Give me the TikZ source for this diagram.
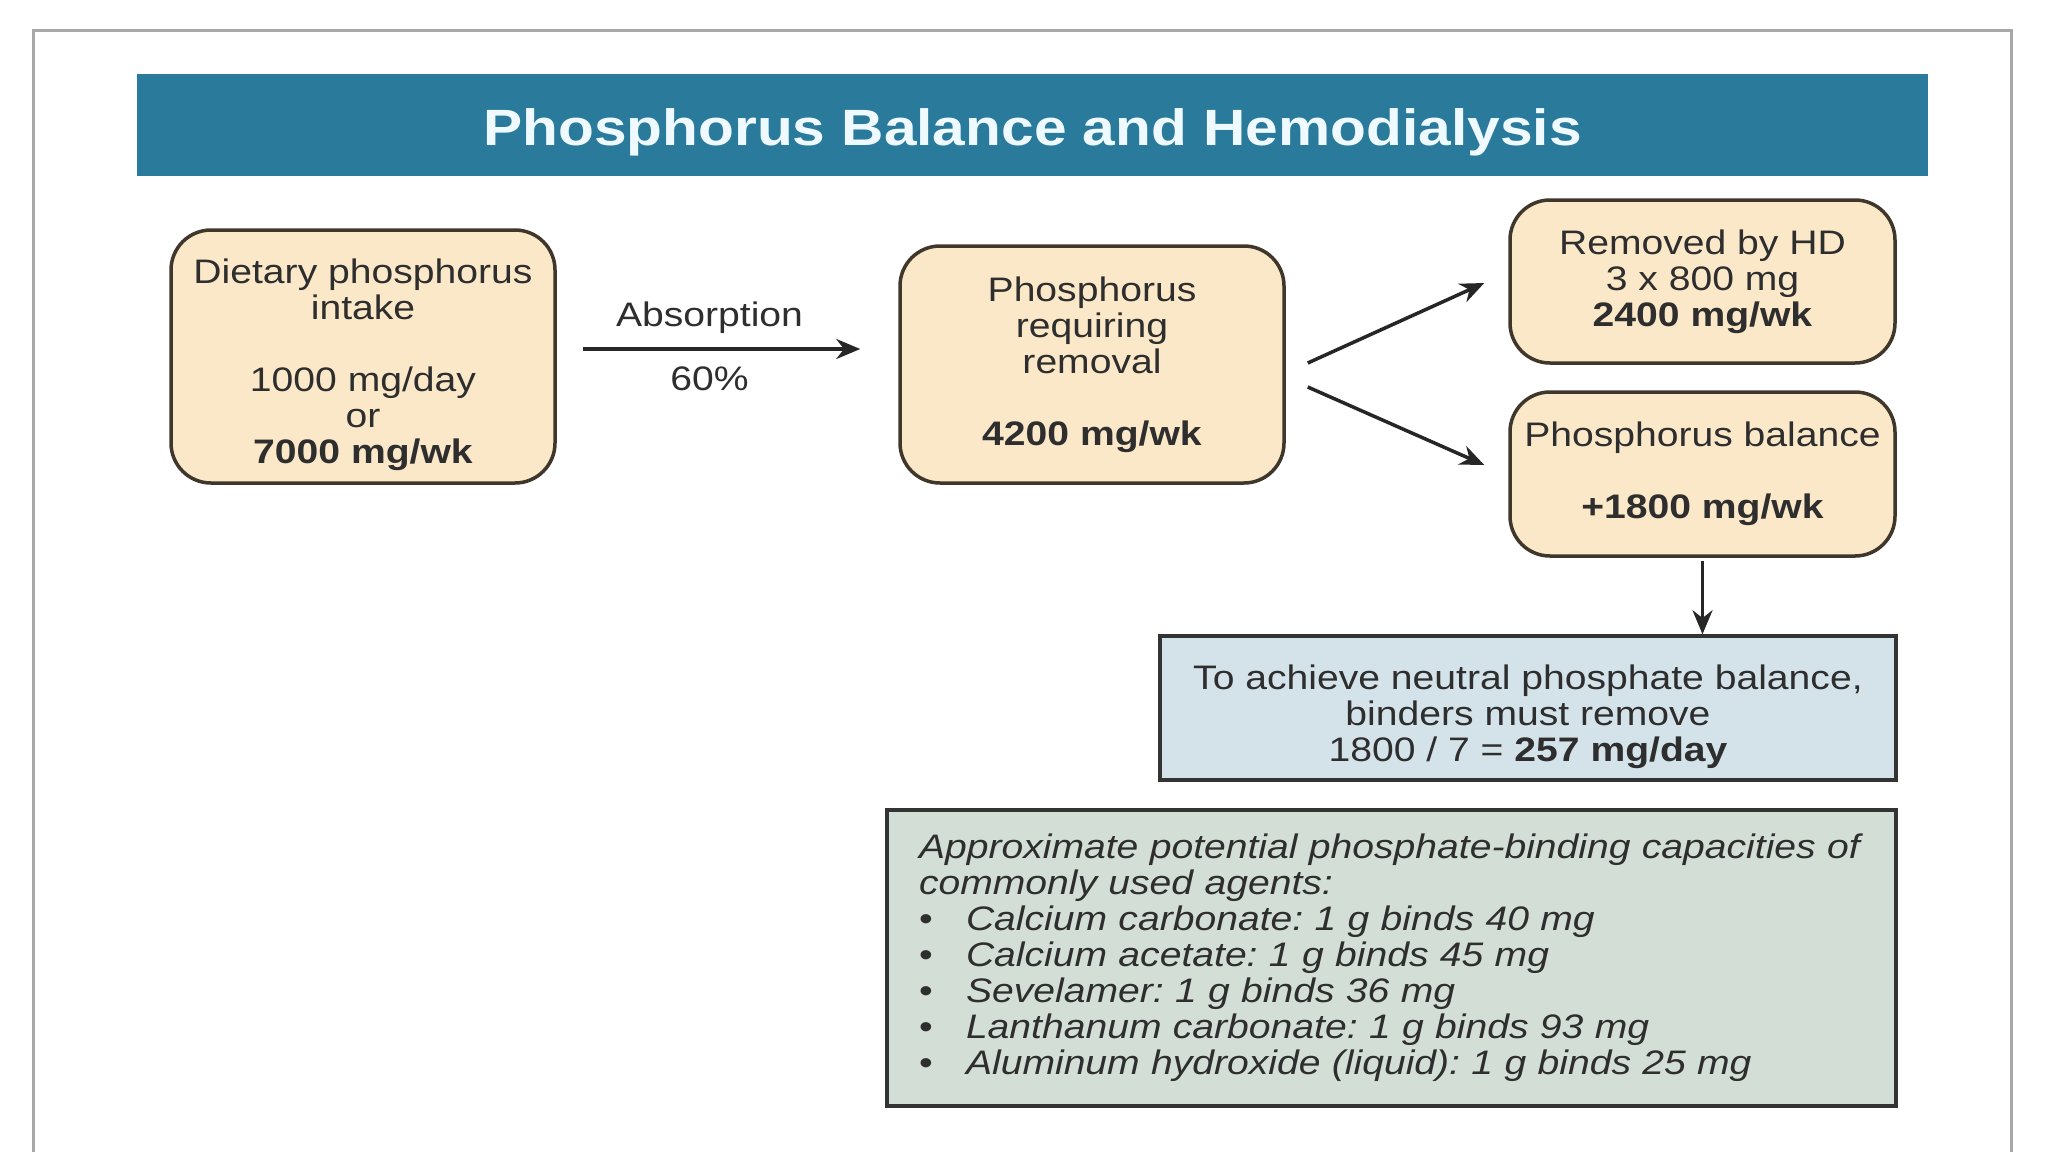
\documentclass[tikz,border=0pt]{standalone}
\usepackage{fontspec}
\setmainfont[FakeStretch=1.15]{Liberation Sans}
\usetikzlibrary{calc,arrows.meta}
\definecolor{bannerc}{HTML}{2A7A9C}
\definecolor{titlec}{HTML}{EEFAFF}
\definecolor{tanfill}{HTML}{FBE8C8}
\definecolor{tanline}{HTML}{3F372B}
\definecolor{bluefill}{HTML}{D4E3EA}
\definecolor{greenfill}{HTML}{D3DFD6}
\definecolor{boxline}{HTML}{333333}
\definecolor{txt}{HTML}{2E2E2E}
\definecolor{framec}{HTML}{A8A8A8}
\definecolor{arrowc}{HTML}{262626}
\frenchspacing
\begin{document}
\begin{tikzpicture}[x=1pt,y=-1pt,
  every node/.style={font=\fontsize{34}{36}\selectfont\frenchspacing, text=txt},
  tanbox/.style={draw=tanline, fill=tanfill, line width=3.5pt, rounded corners=40pt, align=center, inner sep=0pt},
  bluebox/.style={draw=boxline, fill=bluefill, line width=3.5pt, align=center, inner sep=0pt},
  greenbox/.style={draw=boxline, fill=greenfill, line width=3.5pt, align=left, inner xsep=32pt, inner ysep=0pt, text width=945pt},
  arr/.style={draw=arrowc, line width=3.5pt, -{Stealth[length=24pt,width=20pt]}},
]
\useasboundingbox (0,0) rectangle (2048,1152);
\fill[white] (0,0) rectangle (2048,1152);
% outer frame
\draw[framec, line width=3pt] (33,1152) -- (33,30) -- (2011,30) -- (2011,1152);

% banner
\node[fill=bannerc, minimum width=1791pt, minimum height=102pt, inner sep=0pt,
      font=\fontsize{51}{56}\selectfont\bfseries, text=titlec] (title) at (1032.5,125)
      {\raisebox{-7pt}[\height][\depth]{Phosphorus Balance and Hemodialysis}};

% tan boxes
\node[tanbox, minimum width=384pt, minimum height=253pt] (b1) at (363,356.5)
  {\rule{0pt}{41pt}Dietary phosphorus\\intake\\~\\1000 mg/day\\or\\\textbf{7000 mg/wk}};
\node[tanbox, minimum width=384pt, minimum height=237pt] (b2) at (1092,364.5)
  {Phosphorus\\requiring\\removal\\~\\\textbf{4200 mg/wk}};
\node[tanbox, minimum width=385pt, minimum height=163pt] (b3) at (1702.5,281.5)
  {Removed by HD\\3 x 800 mg\\\textbf{2400 mg/wk}};
\node[tanbox, minimum width=385pt, minimum height=164pt] (b4) at (1702.5,474)
  {Phosphorus balance\\~\\\textbf{+1800 mg/wk}};

% blue box
\node[bluebox, minimum width=736pt, minimum height=144pt] (b5) at (1528,708)
  {\rule{0pt}{43pt}To achieve neutral phosphate balance,\\binders must remove\\1800 / 7 = \textbf{257 mg/day}};

% green box
\node[greenbox, minimum height=296pt] (b6) at (1391.5,958)
  {\itshape\mbox{Approximate potential phosphate-binding capacities of}\\
   commonly used agents:\\
   \makebox[47pt][l]{\upshape\textbullet}Calcium carbonate: 1 g binds 40 mg\\
   \makebox[47pt][l]{\upshape\textbullet}Calcium acetate: 1 g binds 45 mg\\
   \makebox[47pt][l]{\upshape\textbullet}Sevelamer: 1 g binds 36 mg\\
   \makebox[47pt][l]{\upshape\textbullet}Lanthanum carbonate: 1 g binds 93 mg\\
   \makebox[47pt][l]{\upshape\textbullet}Aluminum hydroxide (liquid): 1 g binds 25 mg};

% connectors
\draw[arr] ($(b1.east)+(26,-7.5)$) -- node[midway, xshift=-12pt, yshift=31pt]{Absorption}
  node[midway, xshift=-12pt, yshift=-30pt]{60\%} ($(b2.west)+(-38,-15.5)$);
\draw[arr] ($(b2.east)+(22,-1.5)$) -- ($(b3.west)+(-24,1.5)$);
\draw[arr] ($(b2.east)+(22,22.5)$) -- ($(b4.west)+(-24,-9)$);
\draw[arr] ($(b4.south)+(0,3)$) -- (b4.south |- b5.north);
\end{tikzpicture}
\end{document}
